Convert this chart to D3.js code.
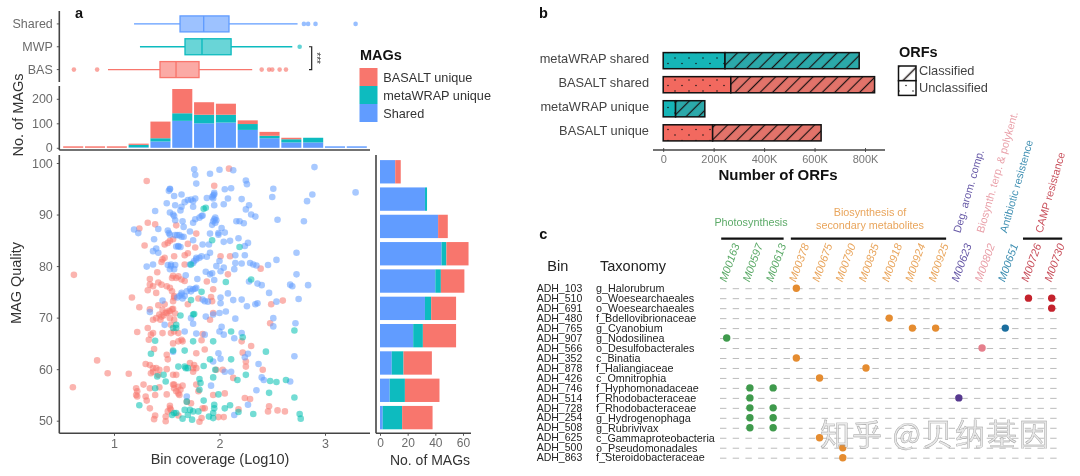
<!DOCTYPE html>
<html><head><meta charset="utf-8">
<script src="https://cdn.jsdelivr.net/npm/d3@7"></script>
<style>
html,body{margin:0;padding:0;background:#fff}
svg{display:block;font-family:"Liberation Sans",Arial,sans-serif;filter:blur(.35px)}
</style></head><body><div id="c"></div>
<script>
// ---------- Panel a data ----------
const boxCategories=["Shared","MWP","BAS"];
const boxStats=[
 {cat:"Shared",lo:1.19,q1:1.626,med:1.85,q3:2.09,hi:2.74},
 {cat:"MWP",lo:1.246,q1:1.673,med:1.834,q3:2.11,hi:2.69},
 {cat:"BAS",lo:0.943,q1:1.436,med:1.588,q3:1.806,hi:2.31}];
const boxOutliers={Shared:[2.80,2.84,2.91,3.29],MWP:[2.76],BAS:[0.62,0.84,2.40,2.47,2.50,2.57,2.63]};
const histBins=["b1","b2","b3","b4","b5","b6","b7","b8","b9","b10","b11","b12","b13","b14"];
const histShared=[0,0,0,2,26,110,100,103,73,39,22,22,6,6];
const histMetaWRAP=[0,0,0,10,13,31,35,32,24,10,13,19,0,0];
const histBasalt=[6,6,6,5,68,99,51,45,15,16,6,0,0,0];
const qualityBins=["95-100","90-95","85-90","80-85","75-80","70-75","65-70","60-65","55-60","50-55"];
const qualShared=[11,32.5,42,44.5,40,32.5,24,8.5,7,2];
const qualMetaWRAP=[0,1.5,0,3.5,4,4.5,7,8.5,11,14];
const qualBasalt=[4,0,7,16,17,18,24,20.5,25,22];
const sharedPoints=[[2.90,99.2],[3.29,94.3],[2.88,93.9],[2.83,92.6],[2.80,88.7],[2.55,89.0],[2.51,95.0],[2.50,93.4],[2.25,96.6],[2.26,95.9],[2.11,95.1],[2.05,94.9],[2.13,98.6],[2.00,98.7],[1.91,97.9],[1.76,98.8],[1.77,97.7],[1.78,96.0],[1.53,95.0],[1.52,94.6],[1.57,93.6],[1.64,93.9],[1.50,92.2],[1.39,90.7],[1.53,90.4],[1.58,91.8],[1.64,91.5],[1.63,90.8],[1.67,92.4],[1.70,92.8],[1.75,92.6],[1.77,93.1],[1.75,91.5],[1.88,93.2],[1.93,93.4],[1.95,94.2],[1.94,93.7],[2.08,93.1],[2.04,92.0],[1.95,91.8],[2.21,93.0],[2.28,91.8],[2.25,91.0],[2.30,90.0],[2.34,89.6],[2.16,88.7],[2.19,88.7],[2.23,88.3],[1.84,89.8],[1.81,89.4],[1.77,89.1],[1.75,88.4],[1.65,88.7],[1.66,87.6],[1.57,89.7],[1.58,88.9],[1.96,89.4],[1.94,88.7],[1.96,88.4],[2.02,87.4],[2.05,86.5],[1.99,86.1],[1.91,86.3],[1.72,86.7],[1.51,86.9],[1.52,86.4],[1.58,86.0],[1.62,86.0],[1.66,85.7],[1.38,85.2],[1.19,87.1],[1.23,86.4],[1.42,87.2],[2.10,84.9],[2.04,84.7],[2.18,85.4],[2.27,84.5],[2.24,83.9],[1.90,84.2],[1.84,84.2],[1.75,85.0],[1.61,83.9],[1.63,83.7],[1.40,83.4],[1.37,82.9],[1.42,82.6],[1.91,82.6],[1.88,81.8],[1.81,81.6],[1.78,81.3],[1.75,80.6],[2.15,82.1],[2.24,82.1],[2.54,81.2],[2.73,82.6],[2.29,80.6],[2.32,80.3],[2.35,80.1],[2.46,80.2],[2.21,80.5],[2.15,80.6],[2.14,79.4],[2.04,79.7],[2.01,79.0],[1.97,80.0],[2.00,81.0],[1.31,79.9],[1.37,80.3],[1.51,80.2],[1.54,80.0],[1.58,80.2],[1.53,79.4],[2.73,78.4],[1.87,78.9],[1.91,78.4],[1.93,78.6],[1.95,77.3],[1.79,77.5],[1.68,78.2],[2.28,77.0],[2.36,76.6],[2.40,76.3],[2.67,76.4],[2.69,76.1],[2.84,76.3],[2.47,74.8],[2.75,73.6],[2.54,73.1],[2.36,72.8],[2.34,72.6],[2.26,72.2],[2.21,73.5],[2.13,73.4],[2.08,74.7],[2.01,73.9],[2.01,72.8],[1.86,73.2],[1.75,75.5],[1.78,75.8],[1.72,75.6],[1.69,75.1],[1.64,74.8],[1.62,74.2],[1.65,73.7],[1.46,73.3],[1.34,71.1],[1.48,68.6],[1.73,69.9],[1.75,68.8],[1.67,67.3],[1.78,66.9],[1.86,66.7],[2.51,69.9],[2.51,68.3],[2.72,68.9],[2.02,68.2],[2.00,67.3],[2.04,66.7],[2.14,66.0],[2.21,67.0],[1.56,63.4],[1.99,63.1],[2.01,62.0],[2.27,63.0],[2.24,62.3],[2.71,62.5],[2.37,61.0],[1.94,61.5],[2.11,59.5],[2.05,59.5],[2.40,58.4],[2.42,57.9],[2.67,57.6],[1.92,56.8],[2.35,55.9],[2.27,53.1],[1.69,54.7],[2.14,51.1],[1.87,70.2],[1.94,70.6],[2.00,70.9],[2.06,71.2],[2.15,69.8],[1.95,89.1],[1.97,88.9],[1.93,88.0],[1.99,86.4],[1.53,86.1],[1.60,86.0],[1.64,85.7],[1.61,83.8],[1.59,83.8],[1.83,81.9],[1.78,81.6],[1.76,81.0],[1.72,80.3],[1.54,80.3],[1.57,79.4],[1.64,74.5],[1.60,73.9],[1.67,74.2],[1.77,75.6],[1.73,75.1],[1.84,73.5],[1.89,73.1],[1.53,94.9],[1.73,92.9],[1.95,93.9],[1.94,93.1],[1.83,89.7],[1.56,90.0]];
const basaltPoints=[[2.09,98.9],[1.31,96.5],[1.95,95.6],[1.32,88.4],[1.39,88.1],[1.24,87.3],[1.59,87.9],[1.78,86.3],[1.29,84.0],[1.48,84.2],[1.53,84.9],[1.51,84.5],[1.56,85.2],[1.70,84.3],[1.77,83.6],[1.57,81.9],[1.67,82.1],[1.70,82.5],[2.01,81.9],[2.10,81.9],[1.46,81.3],[1.48,81.6],[1.45,80.8],[1.67,80.3],[2.39,79.5],[2.08,78.4],[0.62,78.3],[1.41,78.8],[1.34,77.5],[1.42,76.8],[1.34,76.4],[1.37,76.1],[1.32,75.3],[1.40,74.8],[1.17,73.9],[1.45,76.4],[1.53,75.8],[1.56,78.1],[1.59,77.7],[1.64,77.4],[1.67,77.1],[1.88,77.0],[1.94,75.5],[1.92,74.0],[1.93,73.2],[1.80,73.7],[2.60,73.3],[2.49,72.6],[1.24,72.0],[1.34,71.6],[1.42,72.4],[1.48,72.6],[1.56,71.7],[1.57,73.9],[1.70,72.6],[1.46,71.5],[1.53,71.2],[1.50,70.9],[1.43,70.6],[1.40,69.9],[1.37,69.6],[1.32,68.0],[1.22,67.2],[1.35,66.7],[1.46,67.0],[1.54,67.0],[1.33,65.7],[1.57,67.3],[1.61,65.4],[1.65,65.4],[1.84,66.8],[1.83,65.6],[2.30,64.5],[2.21,65.4],[1.38,63.9],[1.86,63.8],[1.78,63.1],[1.50,62.8],[1.51,61.9],[0.84,61.7],[0.94,59.2],[1.14,59.1],[1.30,61.0],[1.34,60.8],[1.37,60.2],[1.40,60.2],[1.35,59.2],[1.43,59.9],[1.50,60.0],[1.59,58.9],[1.56,58.9],[1.72,61.2],[1.76,60.8],[1.78,60.2],[1.75,59.5],[1.97,59.9],[2.03,59.9],[2.22,63.2],[2.25,61.5],[2.25,60.5],[2.41,59.9],[2.13,58.3],[1.28,57.0],[1.21,56.3],[1.22,55.7],[1.21,55.0],[1.22,54.7],[1.34,56.3],[1.43,56.5],[1.39,55.0],[1.50,55.1],[1.57,57.0],[1.61,56.6],[1.59,55.7],[1.65,56.8],[1.62,55.0],[1.78,57.0],[1.80,55.7],[1.30,54.7],[1.31,53.9],[1.34,52.4],[0.61,56.5],[1.69,53.7],[1.73,53.4],[1.84,52.4],[1.94,55.0],[2.05,55.3],[2.24,54.4],[2.29,54.2],[2.47,52.8],[2.46,51.8],[2.55,52.0],[2.62,51.8],[1.53,52.9],[1.51,51.8],[1.39,51.0],[1.38,50.3],[1.49,50.8],[1.49,49.9],[1.61,51.0],[1.81,49.8],[1.83,50.5],[1.99,50.7],[2.04,50.7],[2.18,52.2],[1.94,70.9],[1.91,69.6],[2.48,68.9],[1.86,52.4],[1.52,71.3],[1.49,71.0],[1.47,70.4],[1.45,70.2],[1.55,71.6],[1.58,70.8],[1.44,69.6],[1.53,69.9],[1.55,77.7],[1.61,78.0],[1.50,76.1],[1.55,75.1],[1.57,74.2],[1.56,73.2],[1.57,56.3],[1.56,57.0],[1.61,55.3],[1.63,56.0],[1.54,52.1],[1.53,52.4],[1.75,60.2],[1.37,59.5],[1.42,58.9],[1.56,65.0],[1.64,65.7],[1.37,67.0],[1.57,69.6],[1.54,68.6],[1.61,67.0]];
const metawrapPoints=[[1.87,91.3],[1.85,91.1],[1.93,85.0],[2.19,83.7],[2.30,77.4],[2.06,76.9],[1.83,75.0],[1.73,80.3],[1.73,73.4],[1.63,70.4],[1.76,70.7],[1.59,68.6],[1.56,68.0],[1.39,65.5],[1.35,63.0],[1.67,63.6],[1.56,63.6],[1.94,65.4],[1.75,65.4],[2.11,67.3],[2.22,66.2],[2.44,63.4],[2.71,67.5],[1.91,61.9],[2.11,61.9],[1.68,60.2],[1.61,60.5],[1.85,60.6],[1.96,59.9],[2.25,58.9],[1.94,58.4],[1.81,58.1],[1.82,57.3],[2.17,57.9],[2.48,57.7],[2.54,57.5],[2.63,57.9],[1.49,57.6],[1.41,58.6],[1.47,58.9],[1.39,56.3],[1.81,56.0],[1.99,55.1],[2.47,55.4],[2.71,54.5],[1.85,53.9],[1.24,53.0],[1.95,53.1],[2.10,53.0],[2.05,52.4],[2.18,51.7],[2.32,51.3],[2.76,51.3],[2.77,50.4],[1.57,51.5],[1.67,52.1],[1.75,51.8],[1.70,51.1],[1.65,50.4],[1.74,50.2],[1.80,51.8],[1.90,50.8],[1.94,50.5],[1.95,52.4],[1.69,53.7],[1.59,51.5],[1.55,51.1],[1.72,52.1],[1.94,51.5],[1.75,70.6],[1.67,60.5],[1.70,60.2],[1.59,68.0]];
const magLegend=["BASALT unique","metaWRAP unique","Shared"];
// ---------- Panel b data ----------
const orfCategories=["metaWRAP shared","BASALT shared","metaWRAP unique","BASALT unique"];
const orfUnclassified=[245000,268000,49000,196000];
const orfClassified=[532000,570000,116000,430000];
const orfTicks=[0,200000,400000,600000,800000];
const orfTickLabels=["0","200K","400K","600K","800K"];
// ---------- Panel c data ----------
const binIds=["ADH_103","ADH_510","ADH_691","ADH_480","ADH_765","ADH_907","ADH_566","ADH_352","ADH_878","ADH_426","ADH_746","ADH_514","ADH_728","ADH_254","ADH_508","ADH_625","ADH_500","ADH_863"];
const taxonomy=["g_Halorubrum","o_Woesearchaeales","o_Woesearchaeales","f_Bdellovibrionaceae","g_Cyanobium","g_Nodosilinea","o_Desulfobacterales","c_Binatia","f_Haliangiaceae","c_Omnitrophia","f_Hyphomonadaceae","f_Rhodobacteraceae","f_Rhodobacteraceae","g_Hydrogenophaga","g_Rubrivivax","c_Gammaproteobacteria","o_Pseudomonadales","f_Steroidobacteraceae"];
const modules=["M00163","M00597","M00613","M00378","M00675","M00790","M00835","M00918","M00924","M00925","M00623","M00802","M00651","M00726","M00730"];
const moduleGroup=["ph","ph","ph","bi","bi","bi","bi","bi","bi","bi","de","bt","an","ca","ca"];
const presence=[["ADH_103","M00378"],["ADH_510","M00726"],["ADH_510","M00730"],["ADH_691","M00730"],["ADH_480","M00918"],["ADH_765","M00924"],["ADH_765","M00925"],["ADH_765","M00651"],["ADH_907","M00163"],["ADH_566","M00802"],["ADH_352","M00378"],["ADH_878","M00835"],["ADH_426","M00675"],["ADH_746","M00597"],["ADH_746","M00613"],["ADH_514","M00597"],["ADH_514","M00623"],["ADH_728","M00597"],["ADH_728","M00613"],["ADH_254","M00597"],["ADH_254","M00613"],["ADH_508","M00597"],["ADH_508","M00613"],["ADH_625","M00675"],["ADH_500","M00790"],["ADH_863","M00790"]];
const barGroups=[["M00163","M00613"],["M00378","M00925"],["M00726","M00730"]];
const slantedGroups=[["Deg. arom. comp.","M00623","de"],["Biosynth. terp. & polykent.","M00802","bt"],["Antibiotic resistence","M00651","an"],["CAMP resistance","M00726","ca"]];

// ---------- styles ----------
const RED="#F8766D",TEAL="#0DBBBF",BLUE="#619CFF";
const dotCol={ph:"#3F9A4C",bi:"#E58C30",de:"#56398F",bt:"#E57F8C",an:"#1B6E9E",ca:"#C4222C"};
const txtCol={ph:"#5CAA68",bi:"#E9A55C",de:"#6658A6",bt:"#E99FA8",an:"#3F8FB2",ca:"#C9505C"};
const AX="#444",TICK="#6b6b6b";

const svg=d3.select("#c").append("svg").attr("width",1080).attr("height",476);
const defs=svg.append("defs");
function stripes(id,bg,sp,sw){
  const p=defs.append("pattern").attr("id",id).attr("patternUnits","userSpaceOnUse")
    .attr("width",sp).attr("height",sp).attr("patternTransform","rotate(45)");
  p.append("rect").attr("width",sp).attr("height",sp).attr("fill",bg);
  p.append("line").attr("x1",sp/2).attr("x2",sp/2).attr("y1",0).attr("y2",sp).attr("stroke","#1a1212").attr("stroke-width",sw);
}
function dots(id,bg){
  const p=defs.append("pattern").attr("id",id).attr("patternUnits","userSpaceOnUse").attr("width",14).attr("height",11);
  p.append("rect").attr("width",14).attr("height",11).attr("fill",bg);
  [[3,3],[10,8.5]].forEach(d=>p.append("circle").attr("cx",d[0]).attr("cy",d[1]).attr("r",.75).attr("fill","#111"));
}
stripes("sT","#2BA9AA",8.8,1.2);stripes("sR","#E2736A",8.8,1.2);stripes("sW","#fff",13,1.5);
dots("dT","#15B5B7");dots("dR","#F2695F");dots("dW","#fff");

function styleAxis(g,size=12.5,col=TICK){
  g.selectAll(".domain").attr("stroke",AX).attr("stroke-width",1.6);
  g.selectAll(".tick line").attr("stroke",AX).attr("stroke-width",.9);
  g.selectAll("text").attr("font-size",size).attr("fill",col).attr("font-family","Liberation Sans");
  return g;
}
function txt(x,y,s,o={}){
  const t=svg.append("text").attr("x",x).attr("y",y).text(s)
    .attr("font-size",o.size||13).attr("fill",o.fill||"#222")
    .attr("text-anchor",o.anchor||"start").attr("font-weight",o.weight||"normal");
  if(o.rot!==undefined)t.attr("transform",`rotate(${o.rot} ${x} ${y})`);
  if(o.style)t.attr("font-style",o.style);
  return t;
}

// ---------- Panel a: scales ----------
const x=d3.scaleLinear().domain([1,3]).range([114,325]);
const xLeft=59.3,xRight=370,yBottom=433.3;
const y=d3.scaleLinear().domain([50,100]).range([420.7,163]);
// box
const yBox=d3.scaleBand().domain(boxCategories).range([12.5,81]).paddingInner(.3).paddingOuter(.15);
const boxCol={Shared:BLUE,MWP:TEAL,BAS:RED};
svg.append("g").attr("transform",`translate(${xLeft},0)`).call(d3.axisLeft(yBox).tickSize(2.5).tickPadding(4).tickSizeOuter(0)).call(g=>styleAxis(g))
  .call(g=>g.select(".domain").attr("d","M0,11V82"));
boxStats.forEach(b=>{
  const c=boxCol[b.cat],cy=yBox(b.cat)+yBox.bandwidth()/2;
  const g=svg.append("g");
  g.append("line").attr("x1",x(b.lo)).attr("x2",x(b.hi)).attr("y1",cy).attr("y2",cy).attr("stroke",c).attr("stroke-width",b.cat==="MWP"?1.7:1.4);
  g.append("rect").attr("x",x(b.q1)).attr("width",x(b.q3)-x(b.q1)).attr("y",yBox(b.cat)).attr("height",yBox.bandwidth()).attr("fill","#fff");
  g.append("rect").attr("x",x(b.q1)).attr("width",x(b.q3)-x(b.q1)).attr("y",yBox(b.cat)).attr("height",yBox.bandwidth())
    .attr("fill",c).attr("fill-opacity",.62).attr("stroke",c).attr("stroke-width",1.3);
  g.append("line").attr("x1",x(b.med)).attr("x2",x(b.med)).attr("y1",yBox(b.cat)).attr("y2",yBox(b.cat)+yBox.bandwidth()).attr("stroke",c).attr("stroke-width",1.4);
  g.selectAll("circle").data(boxOutliers[b.cat]).join("circle").attr("cx",d=>x(d)).attr("cy",cy).attr("r",2.3).attr("fill",c).attr("fill-opacity",.65);
});
const bm=yBox("MWP")+yBox.bandwidth()/2,bb=yBox("BAS")+yBox.bandwidth()/2;
svg.append("path").attr("d",`M309,${bm}h2.7V${bb}h-2.7`).attr("fill","none").attr("stroke","#222").attr("stroke-width",1.2);
txt(314,(bm+bb)/2,"***",{size:10,anchor:"middle",rot:90,fill:"#333"}).attr("dy",".1em");

// histogram
const xHist=d3.scaleBand().domain(histBins).range([62.3,367.7]).paddingInner(.08).paddingOuter(.04);
const yHist=d3.scaleLinear().domain([0,100,200]).range([147.8,123.3,98.8]);
const histRows=histBins.map((b,i)=>({bin:b,s:histShared[i],m:histMetaWRAP[i],r:histBasalt[i]}));
const histStack=d3.stack().keys(["s","m","r"])(histRows);
const stackCol=[BLUE,TEAL,RED];
svg.append("g").selectAll("g").data(histStack).join("g").attr("fill",(d,i)=>stackCol[i])
  .selectAll("rect").data(d=>d).join("rect")
  .attr("x",d=>xHist(d.data.bin)).attr("width",xHist.bandwidth())
  .attr("y",d=>yHist(d[1])).attr("height",d=>yHist(d[0])-yHist(d[1]));
svg.append("g").attr("transform",`translate(${xLeft},0)`).call(d3.axisLeft(yHist).tickValues([0,100,200]).tickSize(2.5).tickPadding(4).tickSizeOuter(0)).call(g=>styleAxis(g))
  .call(g=>g.select(".domain").attr("d","M0,86V150"));
svg.append("line").attr("x1",xLeft).attr("x2",xRight).attr("y1",150).attr("y2",150).attr("stroke",AX).attr("stroke-width",1.6);
txt(23,115,"No. of MAGs",{size:14.5,anchor:"middle",rot:-90,fill:"#333"});

// legend MAGs
txt(360,60,"MAGs",{size:14.5,weight:"bold",fill:"#111"});
[RED,TEAL,BLUE].forEach((c,i)=>{
  svg.append("rect").attr("x",359.5).attr("y",68+i*18).attr("width",18).attr("height",18).attr("fill",c);
  txt(383.3,81.5+i*18,magLegend[i],{size:12.7,fill:"#333"});
});

// scatter
[[basaltPoints,RED],[sharedPoints,BLUE],[metawrapPoints,"#00BFB0"]].forEach(([pts,c])=>{
  svg.append("g").selectAll("circle").data(pts).join("circle")
    .attr("cx",d=>x(d[0])).attr("cy",d=>y(d[1])).attr("r",3.3).attr("fill",c).attr("fill-opacity",.55);
});
const yAxisG=svg.append("g").attr("transform",`translate(${xLeft},0)`).call(d3.axisLeft(y).tickValues([50,60,70,80,90,100]).tickSize(2.5).tickPadding(4)).call(g=>styleAxis(g));
yAxisG.select(".domain").attr("d",`M0,155V${yBottom}`);
const xAxisG=svg.append("g").attr("transform",`translate(0,${yBottom})`).call(d3.axisBottom(x).tickValues([1,2,3]).tickFormat(d3.format("d")).tickSize(2.5).tickPadding(3)).call(g=>styleAxis(g));
xAxisG.select(".domain").attr("d",`M${xLeft},0H${xRight}`);
txt(220,464,"Bin coverage (Log10)",{size:14.5,anchor:"middle",fill:"#333"});
txt(21,283,"MAG Quality",{size:14.5,anchor:"middle",rot:-90,fill:"#333"});

// right stacked bars
const xQ=d3.scaleLinear().domain([0,60]).range([380,463]);
const yQ=d3.scaleBand().domain(qualityBins).range([158.2,431.2]).paddingInner(.145).paddingOuter(.07);
const qRows=qualityBins.map((b,i)=>({bin:b,s:qualShared[i],m:qualMetaWRAP[i],r:qualBasalt[i]}));
svg.append("g").selectAll("g").data(d3.stack().keys(["s","m","r"])(qRows)).join("g").attr("fill",(d,i)=>stackCol[i])
  .selectAll("rect").data(d=>d).join("rect")
  .attr("y",d=>yQ(d.data.bin)).attr("height",yQ.bandwidth())
  .attr("x",d=>xQ(d[0])).attr("width",d=>xQ(d[1])-xQ(d[0]));
const xqG=svg.append("g").attr("transform",`translate(0,${yBottom})`).call(d3.axisBottom(xQ).tickValues([0,20,40,60]).tickSize(2.5).tickPadding(3)).call(g=>styleAxis(g,12));
xqG.select(".domain").attr("d","M376,0H471");
svg.append("line").attr("x1",376).attr("x2",376).attr("y1",155).attr("y2",yBottom).attr("stroke",AX).attr("stroke-width",1.6);
txt(430,464.5,"No. of MAGs",{size:14,anchor:"middle",fill:"#333"});
txt(75,18,"a",{size:14.5,weight:"bold",fill:"#111"});

// ---------- Panel b ----------
txt(539,18,"b",{size:14.5,weight:"bold",fill:"#111"});
const xB=d3.scaleLinear().domain([0,800000]).range([663.2,865]);
const yB=d3.scaleBand().domain(orfCategories).range([48.5,145]).paddingInner(.33).paddingOuter(.17);
orfCategories.forEach((c,i)=>{
  const isT=c.startsWith("meta");
  const g=svg.append("g").attr("stroke","#111").attr("stroke-width",1.5);
  g.append("rect").attr("x",xB(0)).attr("y",yB(c)).attr("height",yB.bandwidth())
    .attr("width",xB(orfUnclassified[i])-xB(0)).attr("fill",`url(#${isT?"dT":"dR"})`);
  g.append("rect").attr("x",xB(orfUnclassified[i])).attr("y",yB(c)).attr("height",yB.bandwidth())
    .attr("width",xB(orfUnclassified[i]+orfClassified[i])-xB(orfUnclassified[i])).attr("fill",`url(#${isT?"sT":"sR"})`);
  txt(649,yB(c)+yB.bandwidth()/2-2.2,c,{size:12.8,anchor:"end",fill:"#444"}).attr("dy",".35em");
});
const bAxis=svg.append("g").attr("transform","translate(0,150)").call(d3.axisBottom(xB).tickValues(orfTicks).tickFormat((d,i)=>orfTickLabels[i]).tickSize(2).tickPadding(3)).call(g=>styleAxis(g,11,"#777"));
bAxis.select(".domain").attr("d","M653,0H885");
bAxis.selectAll(".tick line").attr("y1",-2);
txt(778,180,"Number of ORFs",{size:15,anchor:"middle",weight:"bold",fill:"#111"});
txt(899,57,"ORFs",{size:14.5,weight:"bold",fill:"#111"});
["sW","dW"].forEach((p,i)=>{
  svg.append("rect").attr("x",898.5).attr("y",66+i*14.7).attr("width",17.5).attr("height",14.7).attr("fill",`url(#${p})`).attr("stroke","#111").attr("stroke-width",1.5);
  txt(919,71+i*17,["Classified","Unclassified"][i],{size:12.8,fill:"#444"}).attr("dy",".35em");
});

// ---------- Panel c ----------
txt(539.3,239,"c",{size:14.5,weight:"bold",fill:"#111"});
txt(547.3,270.7,"Bin",{size:14.5,fill:"#222"});
txt(600,270.7,"Taxonomy",{size:14.5,fill:"#222"});
const xC=d3.scalePoint().domain(modules).range([726.7,1051.7]);
const yC=d3.scalePoint().domain(binIds).range([288.2,457.7]);
binIds.forEach((b,i)=>{
  txt(536.7,yC(b),b,{size:10.5,fill:"#222"}).attr("dy",".35em");
  txt(596,yC(b),taxonomy[i],{size:10.8,fill:"#222"}).attr("dy",".35em");
  svg.append("line").attr("x1",720).attr("x2",1057).attr("y1",yC(b)+.5).attr("y2",yC(b)+.5)
    .attr("stroke","#ababab").attr("stroke-width",.8).attr("stroke-dasharray","6.4 6.3");
});
svg.append("g").selectAll("circle").data(presence).join("circle")
  .attr("cx",d=>xC(d[1])).attr("cy",d=>yC(d[0])).attr("r",3.7)
  .attr("fill",d=>dotCol[moduleGroup[modules.indexOf(d[1])]]);
modules.forEach((m,i)=>{
  txt(xC(m)+2.7,262.5,m,{size:11,anchor:"middle",rot:-70,fill:txtCol[moduleGroup[i]],style:"italic"}).attr("dy",".35em");
});
barGroups.forEach(([a,b])=>{
  svg.append("line").attr("x1",xC(a)-5.5).attr("x2",xC(b)+10.5).attr("y1",238.7).attr("y2",238.7).attr("stroke","#111").attr("stroke-width",2.2);
});
txt(751,225.5,"Photosynthesis",{size:10.8,anchor:"middle",fill:txtCol.ph});
txt(870,216.3,"Biosynthesis of",{size:10.8,anchor:"middle",fill:txtCol.bi});
txt(870,229.3,"secondary metabolites",{size:10.8,anchor:"middle",fill:txtCol.bi});
slantedGroups.forEach(([s,m,k])=>{
  txt(xC(m)+(m==="M00726"?13.7:1.5),233.5,s,{size:10.8,rot:-74,fill:txtCol[k]});
});
// watermark
svg.append("text").attr("x",1051).attr("y",445).attr("text-anchor","end")
  .attr("font-family","Noto Sans CJK SC").attr("font-size",30).attr("letter-spacing",2)
  .attr("fill","#e4e4e4").attr("fill-opacity",.85).attr("stroke","#9a9a9a").attr("stroke-width",.4)
  .text("知乎 @贝纳基因");
</script></body></html>
